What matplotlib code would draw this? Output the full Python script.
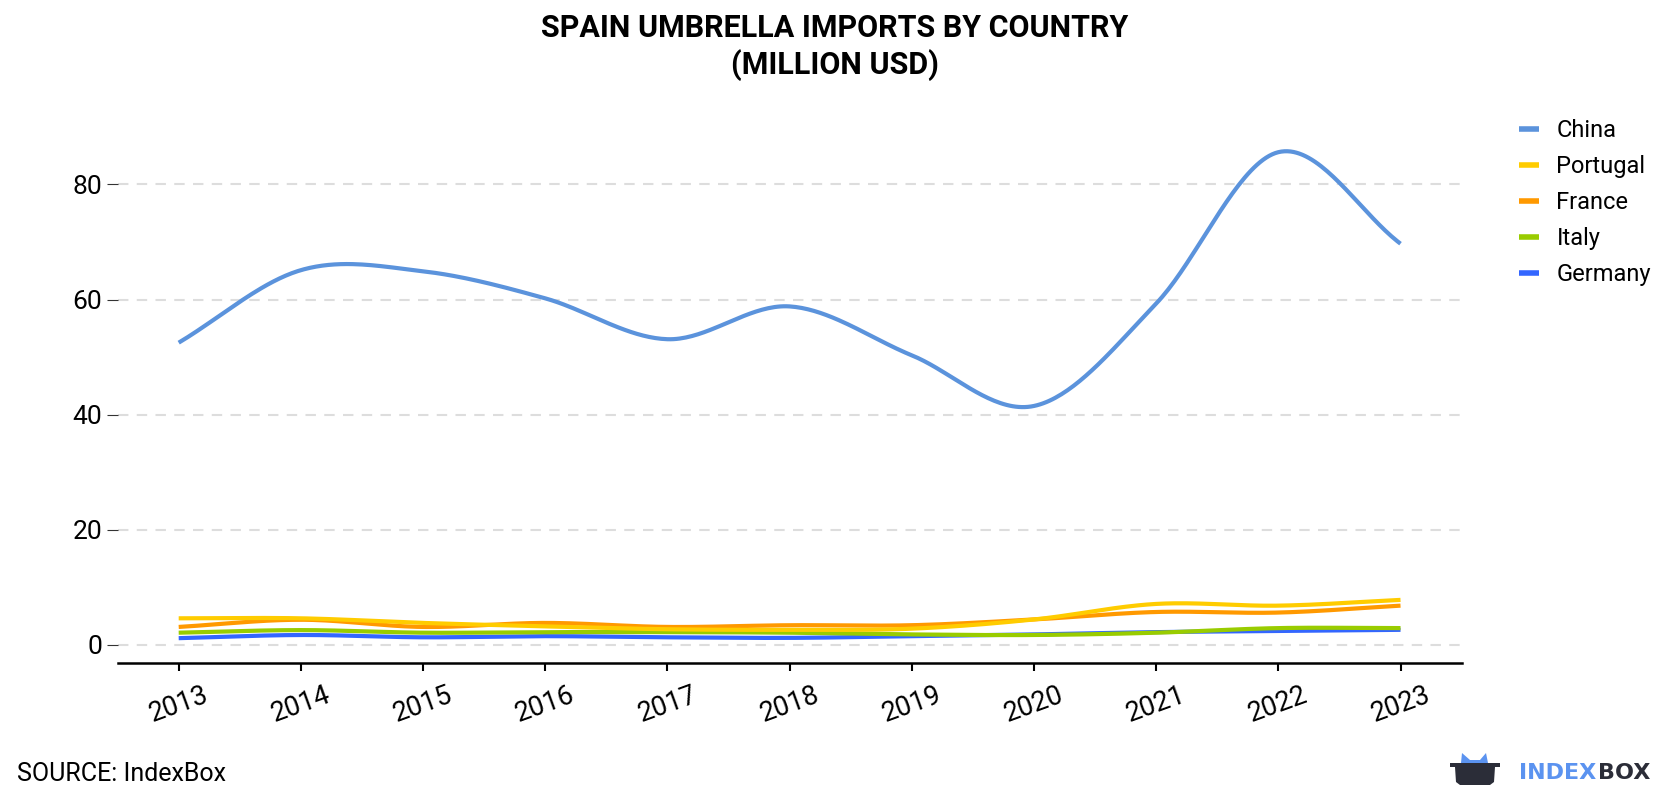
import numpy as np
import matplotlib.pyplot as plt
from matplotlib.patches import Polygon

plt.rcParams['font.family'] = ['Roboto', 'DejaVu Sans']

years = [2013, 2014, 2015, 2016, 2017, 2018, 2019, 2020, 2021, 2022, 2023]
china = [52.5, 65.1, 64.9, 60.2, 53.1, 58.8, 50.3, 41.5, 59.3, 85.6, 69.7]
portugal = [4.6, 4.6, 3.8, 3.2, 2.7, 2.6, 2.8, 4.4, 7.1, 6.8, 7.8]
france = [3.1, 4.35, 3.1, 3.8, 3.1, 3.4, 3.4, 4.4, 5.7, 5.6, 6.8]
italy = [2.1, 2.55, 2.1, 2.2, 2.2, 2.1, 1.8, 1.7, 2.1, 2.9, 2.9]
germany = [1.15, 1.7, 1.3, 1.5, 1.3, 1.2, 1.5, 1.8, 2.2, 2.4, 2.6]

series = [
    ('China', china, '#5b93dc'),
    ('Portugal', portugal, '#ffcc00'),
    ('France', france, '#ff9900'),
    ('Italy', italy, '#99cc00'),
    ('Germany', germany, '#3366ff'),
]


def smooth(x, y, n=40):
    # catmull-rom curve through the points, used only to draw the line
    x = np.asarray(x, float)
    y = np.asarray(y, float)
    px = np.concatenate([[2 * x[0] - x[1]], x, [2 * x[-1] - x[-2]]])
    py = np.concatenate([[2 * y[0] - y[1]], y, [2 * y[-1] - y[-2]]])
    xs, ys = [], []
    t = np.linspace(0, 1, n, endpoint=False)
    for i in range(1, len(px) - 2):
        for p, out in ((px, xs), (py, ys)):
            p0, p1, p2, p3 = p[i - 1], p[i], p[i + 1], p[i + 2]
            out.extend(0.5 * (2 * p1 + (-p0 + p2) * t
                              + (2 * p0 - 5 * p1 + 4 * p2 - p3) * t ** 2
                              + (-p0 + 3 * p1 - 3 * p2 + p3) * t ** 3))
    xs.append(x[-1])
    ys.append(y[-1])
    return np.array(xs), np.array(ys)


fig = plt.figure(figsize=(16.8, 8), dpi=100)
ax = fig.add_axes([0.070, 0.171, 0.800, 0.692])

for name, vals, col in series[::-1]:
    sx, sy = smooth(years, vals)
    ax.plot(sx, sy, color=col, lw=3, label=name, solid_capstyle='butt')

ax.set_xlim(2012.5, 2023.5)
ax.set_ylim(-3.2, 93)
ax.set_xticks(years)
ax.set_xticklabels([str(y) for y in years], rotation=20, fontsize=19.5)
ax.set_yticks([0, 20, 40, 60, 80])
ax.tick_params(axis='y', labelsize=19, length=8, color='#333333', pad=3)
ax.tick_params(axis='x', length=6, width=1.5, color='black', pad=7)
ax.yaxis.grid(True, linestyle=(0, (5, 4)), color='#dddddd', lw=1.5)
ax.set_axisbelow(True)
for s in ['top', 'right', 'left']:
    ax.spines[s].set_visible(False)
ax.spines['bottom'].set_linewidth(1.8)

handles, labels = ax.get_legend_handles_labels()
leg = ax.legend(handles[::-1], labels[::-1], loc='upper left',
                bbox_to_anchor=(0.904, 0.851), bbox_transform=fig.transFigure,
                frameon=False, fontsize=17, borderpad=0, borderaxespad=0,
                handlelength=0.85, handletextpad=0.75, labelspacing=0.55)
for h in leg.get_lines():
    h.set_linewidth(4)

fig.text(0.497, 0.984, 'SPAIN UMBRELLA IMPORTS BY COUNTRY\n(MILLION USD)',
         ha='center', va='top', fontsize=22, fontweight='bold',
         linespacing=1.25)
fig.text(0.010, 0.033, 'SOURCE: IndexBox', fontsize=18, va='center')

# logo
box = Polygon([[1450, 37], [1500, 37], [1500, 33], [1495, 33], [1494, 18],
               [1490, 15], [1460, 15], [1456, 18], [1455, 33], [1450, 33]],
              closed=True, transform=None, facecolor='#2b2d38')
ears = Polygon([[1461, 37], [1462, 47], [1470, 40], [1480, 40], [1486, 47],
                [1488, 37]], closed=True, transform=None, facecolor='#5b93f0')
fig.patches.extend([ears, box])
fig.text(0.904, 0.034, 'INDEX', color='#5b93f0', fontsize=16,
         fontweight='bold', va='center', family='DejaVu Sans')
fig.text(0.951, 0.034, 'BOX', color='#2b2d38', fontsize=16,
         fontweight='bold', va='center', family='DejaVu Sans')

fig.savefig('out.png', dpi=100)
